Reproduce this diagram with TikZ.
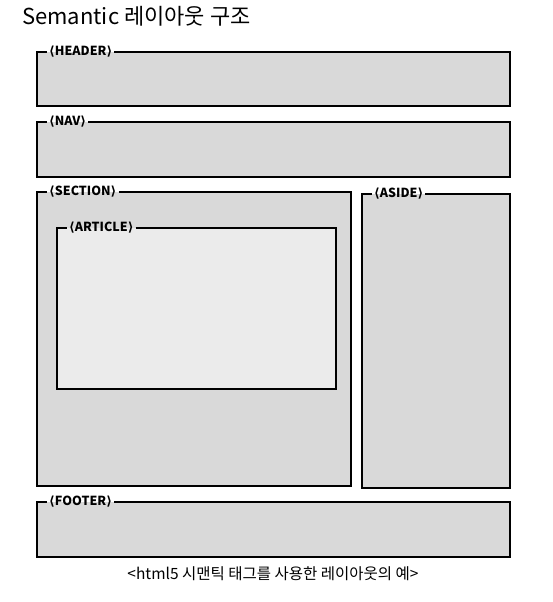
\documentclass[tikz,border=0pt]{standalone}
\usepackage{fontspec}
\setmainfont{Noto Sans CJK KR}
\newfontfamily\bracketfont{DejaVu Sans}
\usetikzlibrary{positioning}
\tikzset{
  box/.style={line width=2.8pt, line join=miter},
  tag/.style={anchor=west, inner sep=2pt, font=\fontsize{12.5}{14}\selectfont\bfseries},
}
\newcommand{\tagtext}[1]{{\bracketfont\char"27E8}#1{\bracketfont\char"27E9}}
\definecolor{boxgray}{HTML}{D9D9D9}
\definecolor{articlegray}{HTML}{EBEBEB}

\begin{document}
\begin{tikzpicture}[x=1pt,y=-1pt]
        \useasboundingbox (0,0) rectangle (552,602);
        \node[anchor=west, inner sep=0pt, font=\fontsize{22}{24}\selectfont] (title) at (22,16) {Semantic 레이아웃 구조};

        % header
        \coordinate (H1) at (37,52);
        \coordinate (H2) at (510,106);
        \fill[boxgray] (H1) rectangle (H2);
        \node[tag] (header) at (47,52) {\tagtext{HEADER}};
        \draw[box] (header.east) -- (H2 |- H1) -- (H2) -- (H1 |- H2) -- (H1) -- (header.west);

        % nav
        \coordinate (N1) at (37,122);
        \coordinate (N2) at (510,177);
        \fill[boxgray] (N1) rectangle (N2);
        \node[tag] (nav) at (47,122) {\tagtext{NAV}};
        \draw[box] (nav.east) -- (N2 |- N1) -- (N2) -- (N1 |- N2) -- (N1) -- (nav.west);

        % section
        \coordinate (S1) at (37,192);
        \coordinate (S2) at (351,486);
        \fill[boxgray] (S1) rectangle (S2);
        \node[tag] (section) at (47,192) {\tagtext{SECTION}};
        \draw[box] (section.east) -- (S2 |- S1) -- (S2) -- (S1 |- S2) -- (S1) -- (section.west);

        % article
        \coordinate (A1) at (57,228);
        \coordinate (A2) at (336,389);
        \fill[articlegray] (A1) rectangle (A2);
        \node[tag] (article) at (67,228) {\tagtext{ARTICLE}};
        \draw[box] (article.east) -- (A2 |- A1) -- (A2) -- (A1 |- A2) -- (A1) -- (article.west);

        % aside
        \coordinate (D1) at (362,194);
        \coordinate (D2) at (510,488);
        \fill[boxgray] (D1) rectangle (D2);
        \node[tag] (aside) at (372,194) {\tagtext{ASIDE}};
        \draw[box] (aside.east) -- (D2 |- D1) -- (D2) -- (D1 |- D2) -- (D1) -- (aside.west);

        % footer
        \coordinate (F1) at (37,502);
        \coordinate (F2) at (510,557);
        \fill[boxgray] (F1) rectangle (F2);
        \node[tag] (footer) at (47,502) {\tagtext{FOOTER}};
        \draw[box] (footer.east) -- (F2 |- F1) -- (F2) -- (F1 |- F2) -- (F1) -- (footer.west);

        \node[font=\fontsize{15.5}{17}\selectfont] (caption) at (273,574) {<html5 시맨틱 태그를 사용한 레이아웃의 예>};
\end{tikzpicture}
\end{document}
